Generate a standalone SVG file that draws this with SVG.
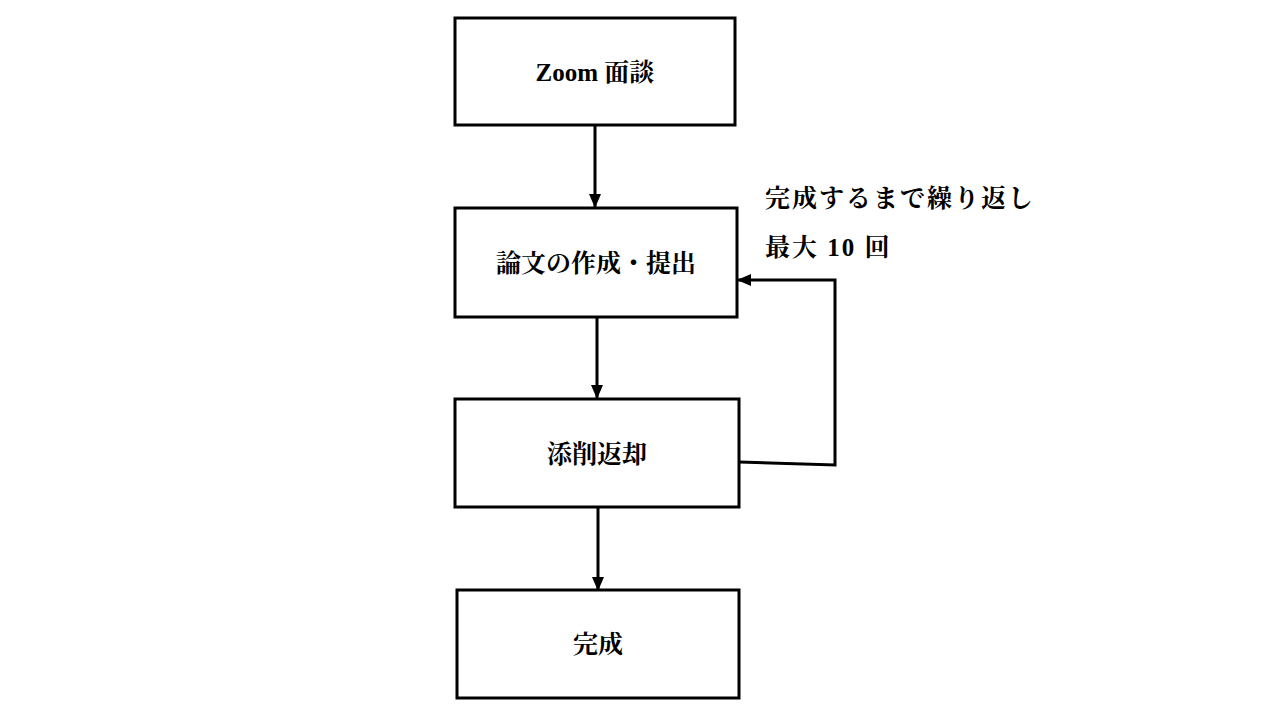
<svg xmlns="http://www.w3.org/2000/svg" width="1280" height="720" viewBox="0 0 1280 720">
<style>
.box{fill:#fff;stroke:#000;stroke-width:3}
.t{font-family:"Liberation Serif","Noto Serif CJK JP","Noto Sans CJK JP",serif;font-size:25px;font-weight:bold;fill:#000}
.c{text-anchor:middle}
.l{letter-spacing:2px}
.ln{fill:none;stroke:#000;stroke-width:3}
</style>
<defs><marker id="a" markerWidth="14" markerHeight="14" refX="13" refY="7" orient="auto" markerUnits="userSpaceOnUse"><path d="M0,1 L14,7 L0,13 z" fill="#000"/></marker></defs>
<rect width="1280" height="720" fill="#fff"/>
<g id="n1"><rect class="box" x="455" y="18" width="280" height="107"/><text class="t c" x="595" y="81">Zoom 面談</text></g>
<g id="n2"><rect class="box" x="455" y="208" width="282" height="109"/><text class="t c" x="596" y="272">論文の作成・提出</text></g>
<g id="n3"><rect class="box" x="455" y="399" width="284" height="108"/><text class="t c" x="597" y="463">添削返却</text></g>
<g id="n4"><rect class="box" x="457" y="590" width="282" height="108"/><text class="t c" x="598" y="653">完成</text></g>
<g id="connectors">
<line class="ln" x1="595" y1="125" x2="595" y2="207" marker-end="url(#a)"/>
<line class="ln" x1="597" y1="317" x2="597" y2="398" marker-end="url(#a)"/>
<line class="ln" x1="598" y1="507" x2="598" y2="590" marker-end="url(#a)"/>
<polyline class="ln" points="739,462 835,465 835,280 738,280" marker-end="url(#a)"/>
</g>
<text class="t l" x="765" y="207">完成するまで繰り返し</text>
<text class="t l" x="765" y="256">最大 10 回</text>
</svg>
